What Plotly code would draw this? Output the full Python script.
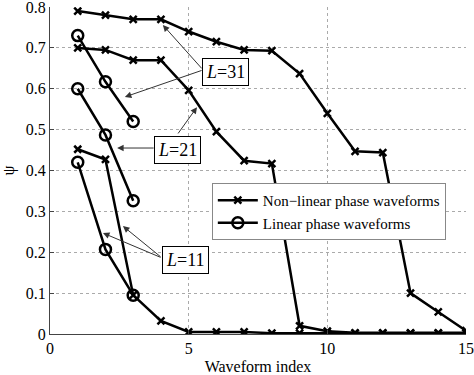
import plotly.graph_objects as go

x_idx = list(range(1, 16))
nl_L31 = [0.79, 0.78, 0.77, 0.77, 0.74, 0.715, 0.695, 0.693, 0.637, 0.54, 0.447, 0.444, 0.10, 0.054, 0.008]
nl_L21 = [0.70, 0.695, 0.67, 0.67, 0.596, 0.495, 0.424, 0.417, 0.02, 0.007, 0.003, 0.003, 0.003, 0.003, 0.003]
nl_L11 = [0.452, 0.427, 0.095, 0.032, 0.005, 0.005, 0.005, 0.002, 0.002, 0.002, 0.002, 0.002, 0.002, 0.002, 0.002]
lin_x = [1, 2, 3]
lin_L31 = [0.73, 0.617, 0.52]
lin_L21 = [0.60, 0.487, 0.326]
lin_L11 = [0.42, 0.207, 0.095]

FONT = "Liberation Serif, Times New Roman, serif"
fig = go.Figure()

first = True
for ys in [nl_L31, nl_L21, nl_L11]:
    fig.add_trace(go.Scatter(
        x=x_idx, y=ys, mode="lines+markers",
        line=dict(color="black", width=2.5),
        marker=dict(symbol="x-thin", size=7, line=dict(color="black", width=2.5)),
        name="Non\u2212linear phase waveforms", showlegend=first, legendgroup="nl"))
    first = False
first = True
for ys in [lin_L31, lin_L21, lin_L11]:
    fig.add_trace(go.Scatter(
        x=lin_x, y=ys, mode="lines+markers",
        line=dict(color="black", width=2.5),
        marker=dict(symbol="circle-open", size=11, color="black", line=dict(color="black", width=2.5)),
        name="Linear phase waveforms", showlegend=first, legendgroup="lin"))
    first = False

labels = [
    ("<i>L</i>=31", 6.31, 0.641, [((5.52, 0.646), (4.07, 0.756)), ((5.52, 0.646), (2.70, 0.580))]),
    ("<i>L</i>=21", 4.58, 0.450, [((3.79, 0.455), (2.42, 0.455)), ((4.58, 0.487), (5.30, 0.555))]),
    ("<i>L</i>=11", 4.87, 0.181, [((4.04, 0.186), (1.91, 0.247)), ((4.04, 0.186), (2.63, 0.264))]),
]
for text, tx, ty, arrows in labels:
    for (ax_, ay_), (hx, hy) in arrows:
        fig.add_annotation(x=hx, y=hy, ax=ax_, ay=ay_, xref="x", yref="y", axref="x", ayref="y",
                           text="", showarrow=True, arrowhead=2, arrowsize=1.3, arrowwidth=1,
                           arrowcolor="#333")
    fig.add_annotation(x=tx, y=ty, xref="x", yref="y", text=text, showarrow=False,
                       font=dict(family=FONT, size=18, color="black"),
                       bordercolor="black", borderwidth=1, borderpad=3, bgcolor="white")

fig.update_layout(
    width=474, height=375,
    margin=dict(l=50, r=8, t=7, b=41),
    plot_bgcolor="white", paper_bgcolor="white",
    font=dict(family=FONT, size=16, color="black"),
    legend=dict(x=0.389, y=0.462, xanchor="left", yanchor="top",
                bordercolor="#888", borderwidth=1, bgcolor="white",
                font=dict(family=FONT, size=15), itemwidth=40, tracegroupgap=0),
)
fig.update_xaxes(range=[0, 15], tickvals=[0, 5, 10, 15], ticks="inside", ticklen=4,
                 showline=True, linecolor="#444", linewidth=1, mirror=False, automargin=False,
                 tickfont=dict(family=FONT, size=16), ticklabeloverflow="allow",
                 showgrid=True, gridcolor="#aaa", griddash="dot", gridwidth=1, zeroline=False,
                 title=dict(text="Waveform index", standoff=4, font=dict(family=FONT, size=16)))
fig.update_yaxes(range=[0, 0.8], tickvals=[0, 0.1, 0.2, 0.3, 0.4, 0.5, 0.6, 0.7, 0.8],
                 ticktext=["0", "0.1", "0.2", "0.3", "0.4", "0.5", "0.6", "0.7", "0.8"],
                 ticks="inside", ticklen=4, automargin=False, ticklabeloverflow="allow",
                 tickfont=dict(family=FONT, size=16),
                 showline=True, linecolor="#444", linewidth=1, mirror=False,
                 showgrid=True, gridcolor="#aaa", griddash="dot", gridwidth=1, zeroline=False,
                 title=dict(text="\u03c8", standoff=9, font=dict(family=FONT, size=16)))
fig.write_html("out.html", config={"displayModeBar": False},
               post_script="document.body.style.margin='0';document.body.style.padding='0';")
